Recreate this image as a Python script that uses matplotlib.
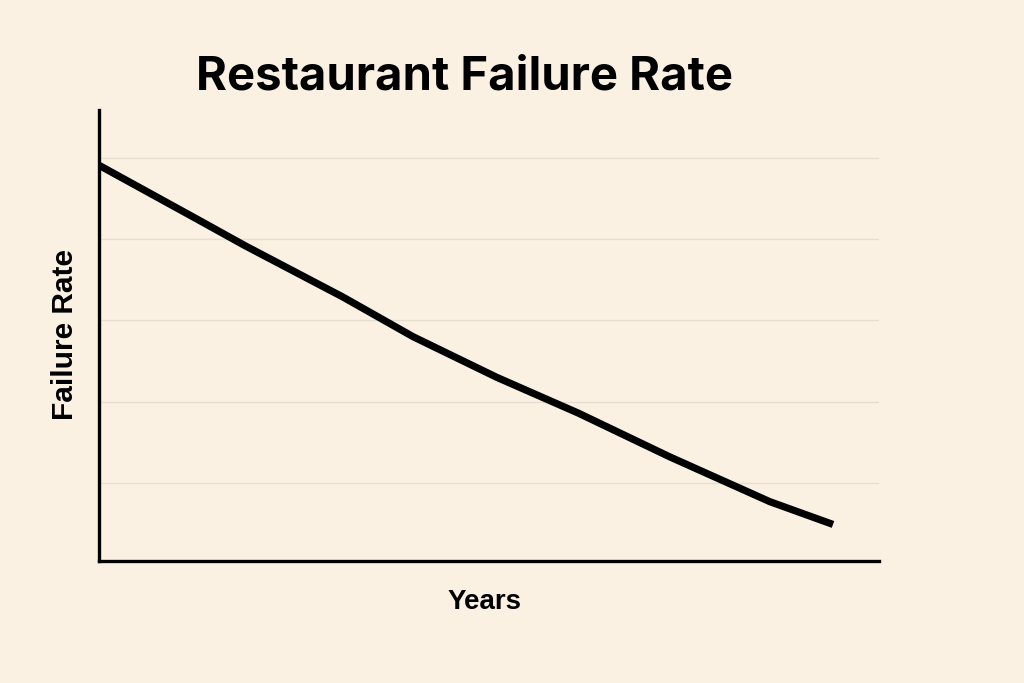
import matplotlib
matplotlib.use("Agg")
import matplotlib.pyplot as plt

years = [0, 1.31, 1.99, 3.32, 4.28, 5.42, 6.53, 7.78, 9.14, 10.0]
failure_rate = [4.91, 4.26, 3.92, 3.29, 2.80, 2.30, 1.86, 1.32, 0.77, 0.49]
grid_levels = [1, 2, 3, 4, 5]

title = "Restaurant Failure Rate"
xlabel = "Years"
ylabel = "Failure Rate"

bg = "#FBF1E3"
fig = plt.figure(figsize=(10.24, 6.83), dpi=100, facecolor=bg)
ax = fig.add_axes([99/1024, 1-561/683, (879-99)/1024, (561-110)/683], facecolor=bg)

ax.plot(years, failure_rate, color="black", lw=5.2, solid_capstyle="butt", solid_joinstyle="round")
ax.set_xlim(0, (879-99)/73.4)
ax.set_ylim(0.04, 5.59)
ax.set_yticks(grid_levels)
ax.set_xticks([])
ax.tick_params(axis="y", length=0, labelleft=False)
ax.grid(axis="y", color="#E6DED2", lw=1)
ax.set_axisbelow(True)
for s in ["top", "right"]:
    ax.spines[s].set_visible(False)
for s in ["left", "bottom"]:
    ax.spines[s].set_linewidth(2.4)
    ax.spines[s].set_color("black")

fig.text(465/1024, 1-77/683, title, ha="center", va="center", fontsize=34,
         fontweight="bold", family="Inter", color="black")
fig.text(485/1024, 1-602/683, xlabel, ha="center", va="center", fontsize=20,
         fontweight="bold", family="Liberation Sans", color="black")
fig.text(65/1024, 1-335/683, ylabel, ha="center", va="center", rotation=90, fontsize=21.5,
         fontweight="bold", family="Liberation Sans", color="black")

fig.savefig("out.png", dpi=100, facecolor=bg)
